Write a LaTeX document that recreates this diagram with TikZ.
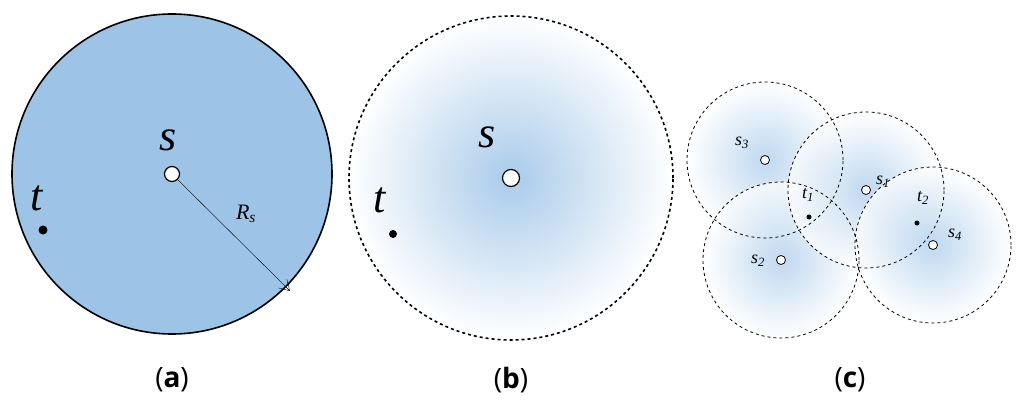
\documentclass[tikz,border=0pt]{standalone}
\usepackage{fontspec}
\usetikzlibrary{arrows.meta}
\setmainfont{Liberation Serif}
\newfontfamily\lab{Open Sans}
\definecolor{fillA}{HTML}{9DC3E6}
\definecolor{glow}{HTML}{A9CBEA}
\begin{document}
\begin{tikzpicture}[x=1pt,y=-1pt,
  wdot/.style={circle,draw=black,fill=white,line width=1.2pt,inner sep=0pt,minimum size=#1},
  bdot/.style={circle,fill=black,inner sep=0pt,minimum size=#1},
  glowc/.style={inner color=glow,outer color=white,fill opacity=0.75},
  captext/.style={font=\lab\fontsize{28}{30}\selectfont}]
\useasboundingbox (0,0) rectangle (1024,404);
% (a)
\node[circle,draw=black,line width=1.6pt,fill=fillA,minimum size=320pt,inner sep=0pt] (ca) at (172,174) {};
\node[wdot=15pt] (sa) at (172,174) {};
\node[font=\itshape\fontsize{44}{44}\selectfont] (la) at (168,140) {s};
\node[bdot=9pt] (ta) at (43,230) {};
\node[font=\itshape\fontsize{44}{44}\selectfont] (lta) at (37,198) {t};
\coordinate (ea) at (290,291);
\draw[-{Straight Barb[length=10pt,width=12pt]}] (sa) -- (ea);
\node[font=\itshape\fontsize{22}{22}\selectfont] (rs) at (246,214) {R\textsubscript{s}};
\node[captext] (capa) at (172,380) {(\textbf{a})};
% (b)
\shade[inner color=glow,outer color=white] (511,178) circle (162);
\node[circle,draw=black,dashed,line width=1.6pt,minimum size=324pt,inner sep=0pt] (cb) at (511,178) {};
\node[wdot=17pt] (sb) at (511,178) {};
\node[font=\itshape\fontsize{44}{44}\selectfont] (lb) at (487,137) {s};
\node[bdot=8pt] (tb) at (393,234) {};
\node[font=\itshape\fontsize{44}{44}\selectfont] (ltb) at (380,200) {t};
\node[captext] (capb) at (511,380) {(\textbf{b})};
% (c)
\foreach \n/\x/\y in {3/765/160,2/781/260,1/866/190,4/933/245}{
  \shade[glowc] (\x,\y) circle (78);
}
\foreach \n/\x/\y in {3/765/160,2/781/260,1/866/190,4/933/245}{
  \node[circle,draw=black,dashed,line width=0.8pt,minimum size=156pt,inner sep=0pt] (c\n) at (\x,\y) {};
  \node[wdot=9pt,line width=0.8pt] (s\n) at (\x,\y) {};
}
\node[bdot=5pt] (t1) at (809,217) {};
\node[bdot=5pt] (t2) at (917,223) {};
\node[font=\itshape\fontsize{18}{18}\selectfont] at (742,143) {s\textsubscript{3}};
\node[font=\itshape\fontsize{18}{18}\selectfont] at (883,182) {s\textsubscript{1}};
\node[font=\itshape\fontsize{18}{18}\selectfont] at (808,195) {t\textsubscript{1}};
\node[font=\itshape\fontsize{18}{18}\selectfont] at (923,198) {t\textsubscript{2}};
\node[font=\itshape\fontsize{18}{18}\selectfont] at (955,235) {s\textsubscript{4}};
\node[font=\itshape\fontsize{18}{18}\selectfont] at (758,261) {s\textsubscript{2}};
\node[captext] (capc) at (850,380) {(\textbf{c})};
\end{tikzpicture}
\end{document}
